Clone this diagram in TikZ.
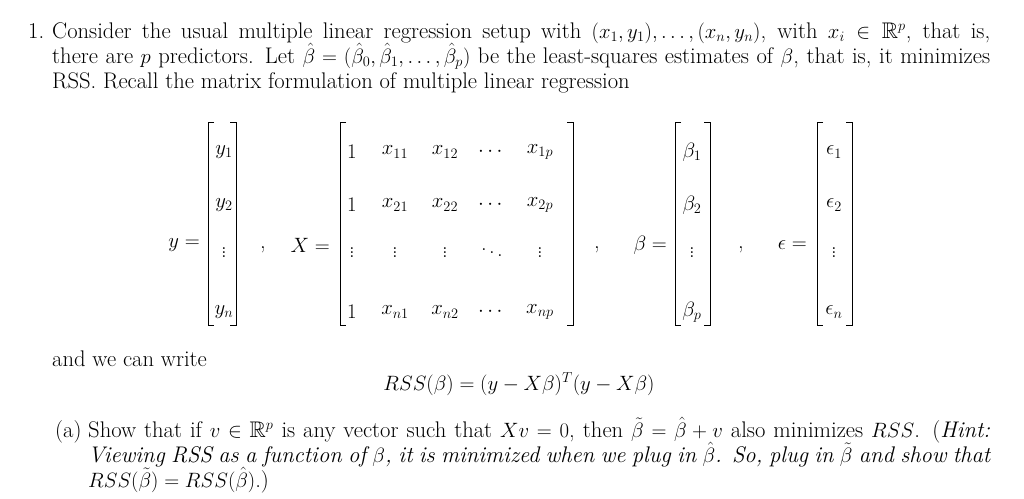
\documentclass[tikz,border=0pt]{standalone}
\usepackage{amsmath,amssymb}
\begin{document}
\begin{tikzpicture}[x=1pt,y=-1pt,
  txt/.style={anchor=base west,inner sep=0pt,font=\fontsize{22.6}{26}\selectfont},
  ent/.style={inner sep=0pt,font=\fontsize{22.6}{26}\selectfont},
  brk/.style={line width=1pt}]
\useasboundingbox (0,0) rectangle (1024,498);
\fill[white] (0,0) rectangle (1024,498);
\node[txt] (l0) at (28,38) {1.};
\node[txt] (l1) at (52,38) {\hbox to 938pt{Consider the usual multiple linear regression setup with $(x_1,y_1),\ldots,(x_n,y_n)$, with $x_i\in\mathbb{R}^p$, that is,}};
\node[txt] (l2) at (52,63) {\hbox to 938pt{there are $p$ predictors. Let $\hat\beta=(\hat\beta_0,\hat\beta_1,\ldots,\hat\beta_p)$ be the least-squares estimates of $\beta$, that is, it minimizes}};
\node[txt] (l3) at (52,88) {RSS. Recall the matrix formulation of multiple linear regression};
% y
\node[ent,anchor=east] (yeq) at (200,245) {$y=$};
\draw[brk] (214,122) -- (208,122) -- (208,325) -- (214,325);
\draw[brk] (230,122) -- (236,122) -- (236,325) -- (230,325);
\foreach \t/\yy in {{y_1}/152,{y_2}/205,{\vdots}/250,{y_n}/312} \node[ent] at (224,\yy) {$\t$};
\node[ent] (c1) at (263,250) {,};
% X
\node[ent,anchor=east] (Xeq) at (330,245) {$X=$};
\draw[brk] (346,122) -- (340,122) -- (340,325) -- (346,325);
\draw[brk] (567,122) -- (573,122) -- (573,325) -- (567,325);
\foreach \yy/\a/\b/\c/\d/\e in {152/1/x_{11}/x_{12}/\cdots/x_{1p},205/1/x_{21}/x_{22}/\cdots/x_{2p},250/\vdots/\vdots/\vdots/\ddots/\vdots,312/1/x_{n1}/x_{n2}/\cdots/x_{np}}{
  \node[ent] at (352,\yy) {$\a$};
  \node[ent] at (395,\yy) {$\b$};
  \node[ent] at (445,\yy) {$\c$};
  \node[ent] at (492,\yy) {$\d$};
  \node[ent] at (540,\yy) {$\e$};}
\node[ent] (c2) at (597,250) {,};
% beta
\node[ent,anchor=east] (beq) at (667,245) {$\beta=$};
\draw[brk] (681,122) -- (675,122) -- (675,325) -- (681,325);
\draw[brk] (704,122) -- (710,122) -- (710,325) -- (704,325);
\foreach \t/\yy in {{\beta_1}/152,{\beta_2}/205,{\vdots}/250,{\beta_p}/312} \node[ent] at (692,\yy) {$\t$};
\node[ent] (c3) at (741,250) {,};
% eps
\node[ent,anchor=east] (eeq) at (807,245) {$\epsilon=$};
\draw[brk] (823,122) -- (817,122) -- (817,325) -- (823,325);
\draw[brk] (846,122) -- (852,122) -- (852,325) -- (846,325);
\foreach \t/\yy in {{\epsilon_1}/152,{\epsilon_2}/205,{\vdots}/250,{\epsilon_n}/312} \node[ent] at (834,\yy) {$\t$};
\node[txt] (l4) at (52,366) {and we can write};
\node[ent,anchor=base] (rss) at (519,390) {$RSS(\beta)=(y-X\beta)^T(y-X\beta)$};
\node[txt] (la) at (55,437) {(a)};
\node[txt] (l5) at (88,437) {\hbox to 902pt{Show that if $v\in\mathbb{R}^p$ is any vector such that $Xv=0$, then $\tilde\beta=\hat\beta+v$ also minimizes $RSS$. (\textit{Hint:}}};
\node[txt] (l6) at (88,462) {\hbox to 902pt{\itshape Viewing RSS as a function of $\beta$, it is minimized when we plug in $\hat\beta$. So, plug in $\tilde\beta$ and show that}};
\node[txt] (l7) at (88,487) {$RSS(\tilde\beta)=RSS(\hat\beta)$.)};
\end{tikzpicture}
\end{document}
